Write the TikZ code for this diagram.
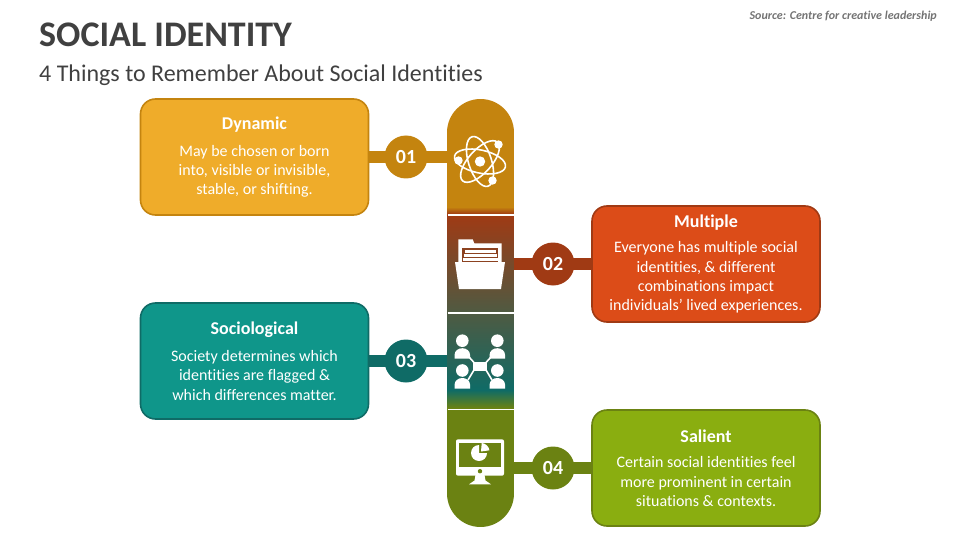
\documentclass[tikz,border=0pt]{standalone}
\usepackage{fontspec}
\setmainfont{Carlito}[Ligatures=NoCommon]
\definecolor{cGold}{HTML}{C4840F}
\definecolor{cAmber}{HTML}{EFAC2A}
\definecolor{cRust}{HTML}{A03A14}
\definecolor{cOrange}{HTML}{DC4C18}
\definecolor{cGrey}{HTML}{4F5A42}
\definecolor{cTealD}{HTML}{0F6B66}
\definecolor{cTeal}{HTML}{0F968A}
\definecolor{cOlive}{HTML}{6B8212}
\definecolor{cLime}{HTML}{8AAE10}
\definecolor{cInk}{HTML}{404040}
\pgfdeclarelayer{under}
\pgfsetlayers{under,main}
\tikzset{
  card/.style={draw=#1,line width=1.6pt,rounded corners=15pt,minimum width=228pt,minimum height=116pt,
    inner sep=0pt,align=center,text=white,font=\fontsize{16}{19.2}\selectfont},
  numdot/.style={circle,fill=#1,minimum size=43pt,inner sep=0pt,text=white,font=\fontsize{20}{20}\selectfont\bfseries},
  bar/.style={draw=#1,line width=12pt},
  seg/.style={minimum width=67pt,inner sep=0pt,outer sep=0pt},
  sep/.style={draw=white,line width=1.6pt},
  icon/.style={fill=white,draw=none},
  orbit/.style={draw=white,line width=1.6pt,fill=none},
}
\newcommand{\hd}[2][8pt]{{\fontsize{18}{27}\selectfont\bfseries #2}\\[#1]}
\begin{document}
\begin{tikzpicture}[x=1pt,y=-1pt]
\useasboundingbox (0,0) rectangle (960,540);
% pill
\begin{scope}
\clip[rounded corners=33.5pt] (447,99) rectangle (514,527);
\fill[cGold] (447,99) rectangle (514,207);
\shade[top color=cGold,bottom color=cRust] (447,207) rectangle (514,214);
\shade[top color=cRust,bottom color=cGrey] (447,214) rectangle (514,312.5);
\shade[top color=cGrey,bottom color=cTealD] (447,312.5) rectangle (514,390);
\shade[top color=cTealD,bottom color=cOlive] (447,390) rectangle (514,408);
\fill[cOlive] (447,408) rectangle (514,527);
\end{scope}
\node[seg,minimum height=115pt] (seg1) at (480.5,156.5) {};
\node[seg,minimum height=98pt] (seg2) at (480.5,264) {};
\node[seg,minimum height=97pt] (seg3) at (480.5,361) {};
\node[seg,minimum height=117pt] (seg4) at (480.5,468) {};
\draw[sep] (447.5,214.7) -- (513.5,214.7);
\draw[sep] (447.5,312.7) -- (513.5,312.7);
\draw[sep] (447.5,409.5) -- (513.5,409.5);
% cards
\node[card=cGold,fill=cAmber] (dyn) at (254.5,157) {\hd[7.5pt]{Dynamic}May be chosen or born\\into, visible or invisible,\\stable, or shifting.};
\node[card=cRust,fill=cOrange] (mul) at (706,264) {\hd[6pt]{Multiple}Everyone has multiple social\\identities, \& different\\combinations impact\\individuals' lived experiences.};
\node[card=cTealD,fill=cTeal] (soc) at (254.5,361) {\hd{Sociological}Society determines which\\identities are flagged \&\\which differences matter.};
\node[card=cOlive,fill=cLime] (sal) at (706,468) {\hd[6.5pt]{Salient}Certain social identities feel\\more prominent in certain\\situations \& contexts.};
% numbers
\node[numdot=cGold] (n1) at (406,157) {01};
\node[numdot=cRust] (n2) at (553,264) {02};
\node[numdot=cTealD] (n3) at (406,361) {03};
\node[numdot=cOlive] (n4) at (553,468) {04};
\begin{pgfonlayer}{under}
\draw[bar=cGold] (dyn.east) -- (n1.center) -- (seg1.west |- n1);
\draw[bar=cRust] (seg2.east |- n2) -- (n2.center) -- (mul.west);
\draw[bar=cTealD] (soc.east) -- (n3.center) -- (seg3.west |- n3);
\draw[bar=cOlive] (seg4.east |- n4) -- (n4.center) -- (sal.west);
\end{pgfonlayer}
% atom
\foreach \a in {-12,-72,-132}{
  \draw[orbit,rotate around={\a:(480,161.5)}] (480,161.5) ellipse [x radius=26,y radius=11.5];
}
\fill[icon] (480,161.5) circle (5.2);
\fill[icon] (458.5,160.5) circle (4.2);
\fill[icon] (498.5,144.5) circle (4.2);
\fill[icon] (492.5,180.5) circle (4.2);
% folder
\fill[icon] (458.3,262) -- (458.3,239.3) -- (472.7,239.3) -- (474.3,243.3) -- (501.7,243.3) -- (501.7,262) -- cycle;
\fill[cRust!75!cGrey] (461.7,248.3) rectangle (498.3,262);
\fill[icon] (464.5,250) rectangle (495.5,252.5);
\fill[icon] (463.5,253.5) rectangle (496.5,256.5);
\fill[icon] (462.5,257.5) rectangle (497.5,261);
\fill[icon] (455,262) -- (505,262) -- (501,289) -- (459,289) -- cycle;
% people
\foreach \hx/\hy in {462.3/340.7,497.3/340.7,462.3/370.5,497.3/370.5}{
  \fill[icon] (\hx,\hy) circle (6.3);
  \fill[icon] (\hx-7.7,\hy+18) -- (\hx-7.7,\hy+14) arc[start angle=180,end angle=0,x radius=7.7,y radius=-6.5] -- (\hx+7.7,\hy+18) -- cycle;
}
\fill[icon] (472.7,361.7) rectangle (487.3,370.7);
\draw[white,line width=1.6pt] (469,357) -- (474,362.5) (491,357) -- (486,362.5) (474,370) -- (468,380) (486,370) -- (492,380);
% monitor
\fill[icon,rounded corners=2pt] (456,439.3) rectangle (504,475.7);
\fill[cOlive] (459,442.5) rectangle (501,466.7);
\fill[cOlive] (480,471.2) circle (2.2);
\fill[icon] (475.5,475) -- (484.5,475) -- (485.5,480.5) -- (491,484.3) -- (469,484.3) -- (474.5,480.5) -- cycle;
\fill[icon] (479,453) -- +(0:8) arc[start angle=0,end angle=270,radius=8] -- cycle;
\fill[icon] (481,451.5) -- +(-85:8.5) arc[start angle=-85,end angle=-8,radius=8.5] -- cycle;
% titles
\node[anchor=base west,inner sep=0pt,text=cInk,font=\fontsize{36}{36}\selectfont\bfseries] (title) at (39,47) {SOCIAL IDENTITY};
\node[anchor=base west,inner sep=0pt,text=cInk,font=\fontsize{24}{24}\selectfont] (sub) at (39,82) {4 Things to Remember About Social Identities};
\node[anchor=base east,inner sep=0pt,text=black!55,font=\fontsize{12}{12}\selectfont\bfseries\itshape] (src) at (937,20) {Source: Centre for creative leadership};
\end{tikzpicture}
\end{document}
